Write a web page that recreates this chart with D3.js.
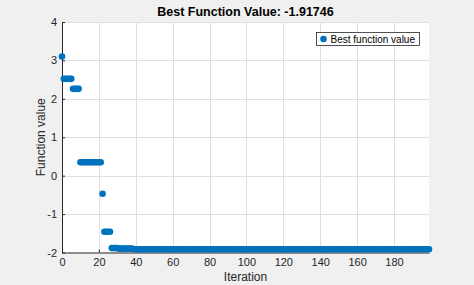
<!DOCTYPE html>
<html>
<head>
<meta charset="utf-8">
<script src="https://cdn.jsdelivr.net/npm/d3@7"></script>
<style>
  html, body { margin: 0; padding: 0; background: #f0f0f0; }
  svg { display: block; font-family: "Liberation Sans", Arial, sans-serif; }
</style>
</head>
<body>
<div id="chart"></div>
<script>
// best value stays constant over runs of iterations: [first, last, value]
const runFirst = [0, 1, 6, 10, 22, 23, 27, 31, 39];
const runLast = [0, 5, 9, 21, 22, 26, 30, 38, 199];
const runValue = [3.10, 2.52, 2.26, 0.35, -0.47, -1.46, -1.885, -1.90, -1.917];

const xTicks = [0, 20, 40, 60, 80, 100, 120, 140, 160, 180];
const yTicks = [-2, -1, 0, 1, 2, 3, 4];

const titleText = "Best Function Value: -1.91746";
const seriesName = "Best function value";

document.addEventListener('DOMContentLoaded', function () {
    const data = [];
    runFirst.forEach(function (f, i) {
        for (let it = f; it <= runLast[i]; it++) {
            data.push({ Iteration: it, Value: runValue[i] });
        }
    });

    const width = 474, height = 285;
    const margin = { top: 22, right: 45, bottom: 32, left: 62 };

    const svg = d3.select("#chart")
        .append("svg")
        .attr("width", width)
        .attr("height", height);

    svg.append("rect")
        .attr("width", width).attr("height", height)
        .attr("fill", "#f0f0f0");

    const x = d3.scaleLinear().domain([0, 199]).range([margin.left, width - margin.right]);
    const y = d3.scaleLinear().domain([-2, 4]).range([height - margin.bottom - 0.5, margin.top]);

    // plot area
    svg.append("rect")
        .attr("x", x(0)).attr("y", y(4))
        .attr("width", x(199) - x(0)).attr("height", y(-2) - y(4))
        .attr("fill", "#ffffff");

    // grid
    svg.append("g").selectAll("line").data(xTicks.slice(1)).join("line")
        .attr("x1", d => Math.round(x(d)) + 0.5).attr("x2", d => Math.round(x(d)) + 0.5)
        .attr("y1", y(4)).attr("y2", y(-2))
        .attr("stroke", "#dfdfdf");
    svg.append("g").selectAll("line").data(yTicks.slice(1)).join("line")
        .attr("y1", d => Math.round(y(d)) + 0.5).attr("y2", d => Math.round(y(d)) + 0.5)
        .attr("x1", x(0)).attr("x2", x(199))
        .attr("stroke", "#dfdfdf");

    // axes
    const fmt = d => String(d);
    const xAxis = svg.append("g")
        .attr("transform", "translate(0," + y(-2) + ")")
        .call(d3.axisBottom(x).tickValues(xTicks).tickFormat(fmt).tickSizeInner(-3).tickSizeOuter(0).tickPadding(6));
    const yAxis = svg.append("g")
        .attr("transform", "translate(" + x(0) + ",0)")
        .call(d3.axisLeft(y).tickValues(yTicks).tickFormat(fmt).tickSizeInner(-3).tickSizeOuter(0).tickPadding(5));

    [xAxis, yAxis].forEach(function (g) {
        g.select(".domain").attr("stroke", "#262626");
        g.selectAll(".tick line").attr("stroke", "#262626");
        g.selectAll("text").attr("fill", "#262626").style("font-size", "11px");
    });

    // points
    svg.append("g").selectAll("circle").data(data).join("circle")
        .attr("cx", d => x(d.Iteration))
        .attr("cy", d => y(d.Value))
        .attr("r", 3.3)
        .attr("fill", "#0072bd");

    // title and labels
    svg.append("text")
        .attr("x", (x(0) + x(199)) / 2).attr("y", 16)
        .attr("text-anchor", "middle")
        .style("font-size", "12.5px").style("font-weight", "bold")
        .attr("fill", "#000")
        .text(titleText);

    svg.append("text")
        .attr("x", (x(0) + x(199)) / 2).attr("y", 281)
        .attr("text-anchor", "middle")
        .style("font-size", "12px")
        .attr("fill", "#262626")
        .text("Iteration");

    svg.append("text")
        .attr("transform", "translate(45," + (y(1)) + ") rotate(-90)")
        .attr("text-anchor", "middle")
        .style("font-size", "12px")
        .attr("fill", "#262626")
        .text("Function value");

    // legend
    const lg = svg.append("g").attr("transform", "translate(316.5,32.5)");
    lg.append("rect")
        .attr("width", 103).attr("height", 13)
        .attr("fill", "#fff").attr("stroke", "#262626").attr("stroke-width", 0.8);
    lg.append("circle").attr("cx", 7).attr("cy", 6.5).attr("r", 3.3).attr("fill", "#0072bd");
    lg.append("text")
        .attr("x", 14).attr("y", 10.3)
        .style("font-size", "10px")
        .attr("fill", "#000")
        .text(seriesName);
});
</script>
</body>
</html>
